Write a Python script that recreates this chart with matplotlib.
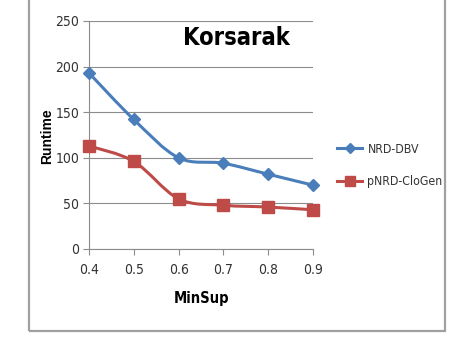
import matplotlib
matplotlib.use("Agg")
import matplotlib.pyplot as plt
from matplotlib.path import Path
from matplotlib.patches import PathPatch, Rectangle
from matplotlib.lines import Line2D
from matplotlib import font_manager

# Data: runtime against minimum support
minsup = [0.4, 0.5, 0.6, 0.7, 0.8, 0.9]
nrd_dbv = [193, 142, 100, 94, 82, 70]
pnrd_clogen = [113, 96, 55, 48, 46, 43]
yticks = [0, 50, 100, 150, 200, 250]

fonts = font_manager.fontManager.ttflist
found = sorted(f.fname for f in fonts
               if ("ondensed" in f.fname or "arrow" in f.fname)
               and "Oblique" not in f.fname and "Italic" not in f.fname)
reg = [f for f in found if "Bold" not in f and "Mono" not in f and "Serif" not in f]
bold = [f for f in found if "Bold" in f and "Mono" not in f and "Serif" not in f]
if reg:
    plain_fp = dict(fname=reg[0])
else:
    plain_fp = dict(family="DejaVu Sans")
if bold:
    bold_fp = dict(fname=bold[0])
else:
    bold_fp = dict(family="DejaVu Sans", weight="bold")


def fp(kind, size):
    d = dict(plain_fp if kind == "plain" else bold_fp)
    return font_manager.FontProperties(size=size, **d)


BLUE = "#4a7ebb"
RED = "#be4b48"


def smooth_path(xs, ys):
    # cubic Bezier through every point, like a spreadsheet "smoothed line"
    pts = list(zip(xs, ys))
    verts = [pts[0]]
    codes = [Path.MOVETO]
    n = len(pts)
    for i in range(n - 1):
        p0 = pts[i - 1] if i > 0 else pts[i]
        p1 = pts[i]
        p2 = pts[i + 1]
        p3 = pts[i + 2] if i + 2 < n else pts[i + 1]
        c1 = (p1[0] + (p2[0] - p0[0]) / 6, p1[1] + (p2[1] - p0[1]) / 6)
        c2 = (p2[0] - (p3[0] - p1[0]) / 6, p2[1] - (p3[1] - p1[1]) / 6)
        verts += [c1, c2, p2]
        codes += [Path.CURVE4] * 3
    return Path(verts, codes)


fig = plt.figure(figsize=(4.74, 3.42), dpi=100)
fig.patch.set_facecolor("white")

# outer frame
fig.add_artist(Rectangle((29 / 474, 11 / 342), 416 / 474, 333 / 342,
                         transform=fig.transFigure, fill=False,
                         edgecolor="#a0a0a0", linewidth=1.6))

ax = fig.add_axes([89 / 474, 93 / 342, 224 / 474, 228 / 342])

for ys, col, mk, ms in [(nrd_dbv, BLUE, "D", 6.5), (pnrd_clogen, RED, "s", 8)]:
    ax.add_patch(PathPatch(smooth_path(minsup, ys), facecolor="none",
                           edgecolor=col, linewidth=2.2, zorder=3))
    ax.plot(minsup, ys, linestyle="none", marker=mk, markersize=ms,
            color=col, markeredgecolor=col, zorder=4, clip_on=False)

ax.set_xlim(0.4, 0.9)
ax.set_ylim(0, 250)
ax.set_xticks(minsup)
ax.set_xticklabels([f"{v:.1f}" for v in minsup])
ax.set_yticks(yticks)
ax.grid(axis="y", color="#8c8c8c", linewidth=0.8)
ax.set_axisbelow(True)
for s in ["top", "right"]:
    ax.spines[s].set_visible(False)
for s in ["left", "bottom"]:
    ax.spines[s].set_color("#8c8c8c")
    ax.spines[s].set_linewidth(0.8)
ax.tick_params(axis="both", colors="#8c8c8c", labelcolor="#333333",
               length=4, width=0.8)
ax.tick_params(axis="y", pad=3)
ax.tick_params(axis="x", pad=6)
for lab in ax.get_xticklabels() + ax.get_yticklabels():
    lab.set_fontproperties(fp("plain", 10))

ax.text(0.66, 0.925, "Korsarak", transform=ax.transAxes, ha="center",
        va="center", color="black", fontproperties=fp("bold", 17))

fig.text(47 / 474, 1 - 136 / 342, "Runtime", rotation=90, ha="center",
         va="center", fontsize=10, fontweight="bold",
         family=["Liberation Sans", "DejaVu Sans"])
fig.text(202 / 474, 1 - 298 / 342, "MinSup", ha="center", va="center",
         fontproperties=fp("bold", 10.5))

# legend on the right
handles = [Line2D([], [], color=BLUE, linewidth=2.2, marker="D", markersize=5),
           Line2D([], [], color=RED, linewidth=2.2, marker="s", markersize=7)]
fig.legend(handles, ["NRD-DBV", "pNRD-CloGen"], loc="center left",
           bbox_to_anchor=(335 / 474, 1 - 165.5 / 342), frameon=False,
           prop=fp("plain", 8.8), handlelength=2.0, handletextpad=0.45,
           labelspacing=1.6, labelcolor="#333333", borderaxespad=0,
           borderpad=0.2)

fig.savefig("out.png", dpi=100)
